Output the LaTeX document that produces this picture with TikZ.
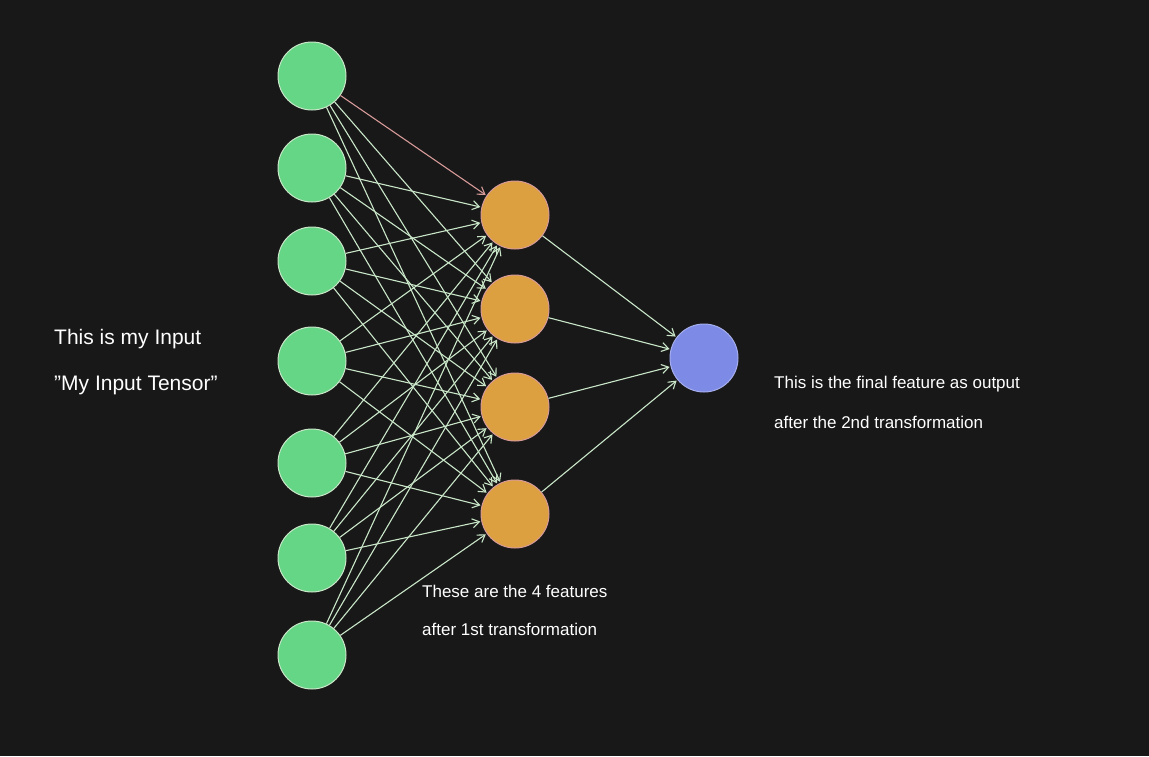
\documentclass[tikz,border=0pt]{standalone}
\usepackage{fontspec}
\setmainfont{Liberation Sans}
\usetikzlibrary{arrows.meta}
\definecolor{bg}{HTML}{181818}
\definecolor{gin}{HTML}{65D586}
\definecolor{org}{HTML}{DDA040}
\definecolor{blu}{HTML}{7E8BE6}
\definecolor{edge}{HTML}{C9E7C8}
\definecolor{red}{HTML}{D69A98}
\begin{document}
\begin{tikzpicture}[x=1pt,y=-1pt,
  neuron/.style={circle,minimum size=68pt,inner sep=0pt,line width=1pt},
  inp/.style={neuron,fill=gin,draw=edge},
  hid/.style={neuron,fill=org,draw=red},
  outn/.style={neuron,fill=blu,draw=blu!70!white},
  con/.style={edge,line width=1.1pt,-{Straight Barb[length=7pt,width=9pt]},shorten >=1pt},
  lbl/.style={white,font=\fontsize{17}{17}\selectfont,anchor=west,inner sep=0pt},
  big/.style={white,font=\fontsize{21}{21}\selectfont,anchor=west,inner sep=0pt}]
\fill[bg] (0,0) rectangle (1149,756);
\useasboundingbox (0,0) rectangle (1149,756);
\foreach \i/\y in {1/76,2/168,3/261,4/361,5/463,6/558,7/655}
  \node[inp] (i\i) at (312,\y) {};
\foreach \j/\y in {1/215,2/309,3/407,4/514}
  \node[hid] (h\j) at (515,\y) {};
\node[outn] (o) at (704,358) {};
\foreach \i in {1,...,7}
  \foreach \j in {1,...,4}
    {\ifnum\i\j=11 \else \draw[con] (i\i) -- (h\j); \fi}
\draw[con,draw=red] (i1) -- (h1);
\foreach \j in {1,...,4} \draw[con] (h\j) -- (o);
\node[big] (t1) at (54,339) {This is my Input};
\node[big] (t2) at (54,385) {"My Input Tensor"};
\node[lbl] (t3) at (422,591) {These are the 4 features};
\node[lbl] (t4) at (422,629) {after 1st transformation};
\node[lbl] (t5) at (774,384) {This is the final feature as output};
\node[lbl] (t6) at (774,422) {after the 2nd transformation};
\end{tikzpicture}
\end{document}
